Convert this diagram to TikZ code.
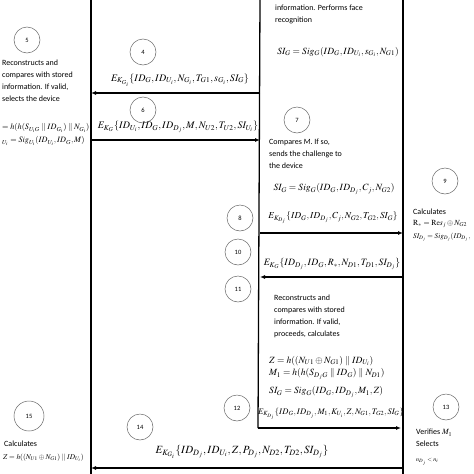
\documentclass[tikz,border=0pt]{standalone}
\usepackage{mathptmx}
\usepackage[no-math]{fontspec}
\setmainfont{Carlito}
\usetikzlibrary{arrows.meta}
\tikzset{
  life/.style={line width=1.3pt, black},
  msg/.style={line width=1.3pt, -{Latex[length=5pt,width=4pt]}},
  num/.style={circle, draw=black!60, line width=0.5pt, minimum size=26pt, inner sep=0pt, font=\fontsize{6.5}{7}\selectfont},
  txt/.style={anchor=west, inner sep=0pt, align=left, font=\fontsize{8}{12}\selectfont},
  frm/.style={inner sep=0pt, font=\fontsize{9.5}{11}\selectfont},
  frml/.style={frm, anchor=west},
  fs/.style={font=\fontsize{#1}{#1}\selectfont},
}
\begin{document}
\begin{tikzpicture}[x=1pt,y=-1pt]
\useasboundingbox (0,0) rectangle (474,474);
% lifelines
\coordinate (Ltop) at (91,0);   \coordinate (Lbot) at (91,474);
\coordinate (Mtop) at (260,0);  \coordinate (Mbot) at (258,428);
\coordinate (Rtop) at (403,0);  \coordinate (Rbot) at (403,474);
\draw[life] (Ltop) -- (Lbot);
\draw[life] (Mtop) -- (Mbot);
\draw[life] (Rtop) -- (Rbot);

% top middle
\node[txt] (t1) at (275,14) {information. Performs face\\recognition};
\node[frm] (f1) at (338,52) {$SI_G = Sig_G(ID_G, ID_{U_i}, s_{G_i}, N_{G1})$};

% left 5
\node[num] (c5) at (27,40) {5};
\node[txt] (t5) at (2,81) {Reconstructs and\\compares with stored\\information. If valid,\\selects the device};
\node[frm, fs=8.2, anchor=west] (f5a) at (2,128) {$= h(h(S_{U_iG}\parallel ID_{G_i})\parallel N_{G_i})$};
\node[frm, fs=8.2, anchor=west] (f5b) at (2,141) {${}_{U_i} = Sig_{U_i}(ID_{U_i}, ID_G, M)$};

% message 4
\node[num] (c4) at (143,52) {4};
\node[frm, fs=10] (m4) at (180,80) {$E_{K_{G_i}}\{ID_G, ID_{U_i}, N_{G_i}, T_{G1}, s_{G_i}, SI_G\}$};
\coordinate (a4s) at (260,93); \coordinate (a4e) at (91,93);
\draw[msg] (a4s) -- (a4e);

% message 6
\node[num] (c6) at (143,110) {6};
\node[frm, fs=10] (m6) at (178,127) {$E_{K_G}\{ID_{U_i}, ID_G, ID_{D_j}, M, N_{U2}, T_{U2}, SI_{U_i}\}$};
\coordinate (a6s) at (91,140); \coordinate (a6e) at (260,140);
\draw[msg] (a6s) -- (a6e);

% 7
\node[num] (c7) at (297,120) {7};
\node[txt] (t7) at (269,154) {Compares \textit{M}. If so,\\sends the challenge to\\the device};
\node[frm] (f7) at (334,189) {$SI_G = Sig_G(ID_G, ID_{D_j}, C_j, N_{G2})$};

% message 8
\node[num] (c8) at (240,218) {8};
\node[frm, fs=9.2] (m8) at (333,218) {$E_{K_{D_j}}\{ID_G, ID_{D_j}, C_j, N_{G2}, T_{G2}, SI_G\}$};
\coordinate (a8s) at (260,233); \coordinate (a8e) at (403,233);
\draw[msg] (a8s) -- (a8e);

% 9
\node[num] (c9) at (445,181) {9};
\node[txt] (t9) at (413,212) {Calculates};
\node[frml, fs=7.8] (f9a) at (413,224) {$\mathrm{R}_* = \mathrm{Re}s_j \oplus N_{G2}$};
\node[frml, fs=7.2] (f9b) at (413,237) {$SI_{D_j} = Sig_{D_j}(ID_{D_j},$};

% message 10
\node[num] (c10) at (238,252) {10};
\node[frm, fs=9.7] (m10) at (332,264) {$E_{K_G}\{ID_{D_j}, ID_G, R_*, N_{D1}, T_{D1}, SI_{D_j}\}$};
\coordinate (a10s) at (403,277); \coordinate (a10e) at (260,277);
\draw[msg] (a10s) -- (a10e);

% 11
\node[num] (c11) at (238,289) {11};
\node[txt] (t11) at (274,316) {Reconstructs and\\compares with stored\\information. If valid,\\proceeds, calculates};
\node[frml] (f11a) at (269,361) {$Z = h((N_{U1}\oplus N_{G1})\parallel ID_{U_i})$};
\node[frml] (f11b) at (269,374) {$M_1 = h(h(S_{D_jG}\parallel ID_G)\parallel N_{D1})$};
\node[frml] (f11c) at (269,392) {$SI_G = Sig_G(ID_G, ID_{D_j}, M_1, Z)$};

% message 12
\node[num] (c12) at (237,408) {12};
\node[frm, fs=8.5] (m12) at (331,414) {$E_{K_{D_j}}\{ID_G, ID_{D_j}, M_1, K_{U_i}, Z, N_{G1}, T_{G2}, SI_G\}$};
\coordinate (a12e) at (401,428);
\draw[msg] (Mbot) -- (a12e);

% 13
\node[num] (c13) at (446,407) {13};
\node[txt] (t13) at (416,438) {Verifies $M_1$\\Selects};
\node[frml, fs=6] (f13) at (416,462) {$n_{D_j} < n_i$};

% 15
\node[num, minimum size=30pt] (c15) at (29,416) {15};
\node[txt] (t15) at (4,444) {Calculates};
\node[frml, fs=7.3] (f15) at (3,458) {$Z = h((N_{U1}\oplus N_{G1})\parallel ID_{U_i})$};

% message 14
\node[num] (c14) at (140,427) {14};
\node[frm, fs=11] (m14) at (242,452) {$E_{K_{G_i}}\{ID_{D_j}, ID_{U_i}, Z, P_{D_j}, N_{D2}, T_{D2}, SI_{D_j}\}$};
\coordinate (a14s) at (403,468); \coordinate (a14e) at (91,468);
\draw[msg] (a14s) -- (a14e);
\end{tikzpicture}
\end{document}
